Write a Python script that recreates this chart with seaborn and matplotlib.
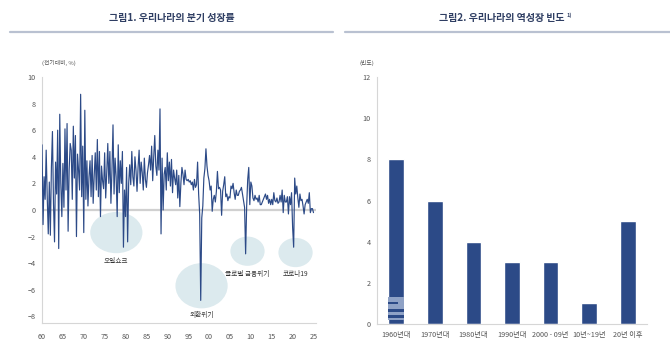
import numpy as np
import pandas as pd
import matplotlib
matplotlib.use("Agg")
import matplotlib.pyplot as plt
from matplotlib.patches import Ellipse, Rectangle
from matplotlib.lines import Line2D
import seaborn as sns

# quarterly growth (q/q, %), 1960Q1 ~ 2025Q1
growth = [
    4.9, -1.1, 2.5, 0.8,   4.5, 1.0, -1.8, 2.1,   -1.9, 3.2, 5.9, 0.5,
    -2.4, 3.6, 1.2, 6.0,   -2.9, 7.2, 2.0, -0.5,  3.5, 0.2, 6.1, 1.5,
    6.5, -1.6, 3.0, 5.0,   4.5, 0.8, 6.3, 2.4,    5.6, -2.0, 4.2, 3.0,
    1.5, 8.7, 1.0, 4.8,    -1.7, 7.5, 0.8, 3.7,   0.3, 2.5, 3.7, 1.0,
    4.1, 0.5, 2.6, 4.3,    1.5, 5.3, 1.0, 4.4,    -0.5, 3.3, 2.2, 1.6,
    4.3, 0.9, 2.8, 5.0,    2.0, 4.4, 0.5, 3.0,    6.4, 1.2, 3.9, 2.5,
    -0.5, 4.9, 1.3, 3.7,   2.0, 4.4, -2.8, 1.5,   -0.5, 3.2, -2.4, 2.0,
    3.4, 1.9, 4.4, 2.5,    1.8, 4.0, 3.0, 1.4,    3.2, 4.5, 2.0, 3.6,
    2.8, 1.5, 3.9, 2.3,    1.7, 2.8, 3.4, 4.1,    3.0, 4.8, 2.2, 4.0,
    5.6, 3.3, 2.6, 4.5,    3.0, 7.6, -1.8, 3.9,   0.0, 2.7, 3.2, 1.5,
    4.3, 2.2, 3.6, 1.8,    3.8, 1.3, 3.0, 2.4,    1.9, 3.0, 0.9, 2.6,
    0.25, 2.0, 3.2, 2.7,   1.9, 3.0, 2.3, 2.2,    2.3, 2.1, 2.2, 1.9,
    2.1, 1.5, 2.3, 1.7,    1.9, 3.6, 1.2, -0.3,   -6.8, -0.6, 0.3, 2.4,
    3.1, 4.6, 3.3, 2.6,    2.2, 1.5, 1.8, -0.1,   0.8, 1.1, 0.6, 1.4,
    2.9, 1.6, 1.7, 1.5,    -0.4, 1.4, 1.9, 2.5,   1.0, 1.2, 0.7, 1.0,
    0.9, 1.8, 1.6, 2.0,    1.3, 0.8, 1.5, 1.1,    1.1, 1.4, 1.5, 1.7,
    1.2, 0.7, 0.2, -3.3,   0.3, 2.3, 3.2, 0.4,    2.1, 1.8, 0.9, 0.7,
    1.1, 0.8, 0.9, 0.6,    1.1, 0.4, 0.4, 0.6,    0.8, 1.0, 1.2, 0.8,
    1.1, 0.5, 0.8, 0.4,    0.8, 0.4, 1.3, 0.7,    0.6, 0.9, 0.5, 0.6,
    1.1, 0.6, 1.5, -0.2,   1.1, 0.6, 0.6, 1.0,    -0.3, 1.0, 0.4, 1.3,
    -1.3, -2.8, 2.4, 1.2,  1.8, 0.9, 0.2, 1.2,    0.7, 0.8, 0.3, -0.3,
    0.4, 0.6, 0.8, 0.5,    1.3, -0.2, 0.1, 0.1,   -0.2,
]
years = 1960 + np.arange(len(growth)) / 4
year_ticks = list(range(1960, 2026, 5))
year_labels = ["60", "65", "70", "75", "80", "85", "90", "95",
               "00", "05", "10", "15", "20", "25"]

# crisis markers: label, centre year, centre value, width (yrs), height, label value
events = ["오일쇼크", "외환위기", "글로벌 금융위기", "코로나19"]
ev_x = [1977.8, 1998.2, 2009.2, 2020.7]
ev_y = [-1.7, -5.7, -3.1, -3.2]
ev_w = [12.5, 12.5, 8.2, 8.2]
ev_h = [3.1, 3.4, 2.2, 2.2]
ev_ly = [-3.85, -7.9, -4.8, -4.8]

# number of negative-growth quarters by period
periods = ["1960년대", "1970년대", "1980년대", "1990년대", "2000 - 09년", "10년~19년", "20년 이후"]
counts = [8, 6, 4, 3, 3, 1, 5]

sns.set_theme(style="white")
plt.rcParams["font.family"] = ["Noto Sans CJK KR", "DejaVu Sans"]

navy = "#2c4a87"
grey_txt = "#555555"
axis_col = "#d6d6d6"
title_col = "#2f3e63"

fig = plt.figure(figsize=(6.7, 3.52), dpi=100)
W, H = 670, 352

def box(x0, y0, x1, y1):
    return [x0 / W, 1 - y1 / H, (x1 - x0) / W, (y1 - y0) / H]

# titles and underlines
fig.text(172 / W, 1 - 18 / H, "그림1. 우리나라의 분기 성장률", ha="center", va="center",
         fontsize=7.2, fontweight="bold", color=title_col)
fig.text(502 / W, 1 - 18 / H, "그림2. 우리나라의 역성장 빈도", ha="center", va="center",
         fontsize=7.2, fontweight="bold", color=title_col)
fig.text(567 / W, 1 - 15 / H, "1)", ha="left", va="center",
         fontsize=4.0, fontweight="bold", color=title_col)
fig.add_artist(Line2D([10 / W, 333 / W], [1 - 32 / H] * 2, color="#b9c1d1", lw=1.6))
fig.add_artist(Line2D([345 / W, 670 / W], [1 - 32 / H] * 2, color="#b9c1d1", lw=1.6))

# ---- left: quarterly growth
ax1 = fig.add_axes(box(42, 77, 316, 323))
for lab, cx, cy, w, h, ly in zip(events, ev_x, ev_y, ev_w, ev_h, ev_ly):
    ax1.add_patch(Ellipse((cx, cy), w, h, facecolor="#dceaee", edgecolor="none", zorder=0))
    ax1.text(cx, ly, lab, ha="center", va="center", fontsize=4.8, color="#333333")
ax1.axhline(0, color="#d0d0d0", lw=1.6, zorder=1)
df = pd.DataFrame({"t": years, "g": growth})
sns.lineplot(data=df, x="t", y="g", ax=ax1, color=navy, lw=0.85, zorder=3)
ax1.set_xlim(1960, 2025.6)
ax1.set_ylim(-8.5, 10)
ax1.set_yticks(range(-8, 11, 2))
ax1.set_xticks(year_ticks)
ax1.set_xticklabels(year_labels)
ax1.set_xlabel("")
ax1.set_ylabel("")
ax1.text(0, 1.058, "(전기대비, %)", transform=ax1.transAxes, ha="left", va="center",
         fontsize=4.2, color=grey_txt)

# ---- right: frequency bars
ax2 = fig.add_axes(box(377, 77, 647, 324))
sns.barplot(x=periods, y=counts, ax=ax2, color=navy, width=0.41, saturation=1)
# small watermark-like mark at the bottom of the first bar
ax2.add_patch(Rectangle((-0.205, 0.2), 0.41, 1.1, facecolor="#8fa2c6", edgecolor="none", zorder=3))
for y0, x0, w in [(0.95, -0.205, 0.25), (0.6, -0.205, 0.41), (0.3, -0.205, 0.41)]:
    ax2.add_patch(Rectangle((x0, y0), w, 0.14, facecolor=navy, edgecolor="none", zorder=4))
ax2.set_xlim(-0.5, 6.5)
ax2.set_ylim(0, 12)
ax2.set_yticks(range(0, 13, 2))
ax2.set_xticks([i + 0.5 for i in range(6)], minor=True)
ax2.set_xlabel("")
ax2.set_ylabel("")
ax2.text(-0.065, 1.058, "(빈도)", transform=ax2.transAxes, ha="left", va="center",
         fontsize=4.2, color=grey_txt)

for ax in (ax1, ax2):
    sns.despine(ax=ax)
    for s in ("left", "bottom"):
        ax.spines[s].set_color(axis_col)
        ax.spines[s].set_linewidth(0.8)
    ax.tick_params(axis="both", which="major", labelsize=5.2, labelcolor=grey_txt,
                   colors=axis_col, length=2, width=0.6, pad=2.5)
    ax.tick_params(axis="both", labelcolor=grey_txt)
    ax.set_facecolor("none")
ax2.tick_params(axis="x", which="major", length=0, pad=5)
ax2.tick_params(axis="x", which="minor", length=3, color=axis_col, width=0.6, direction="out")
ax1.tick_params(axis="x", pad=5)

fig.savefig("out.png", dpi=100)
